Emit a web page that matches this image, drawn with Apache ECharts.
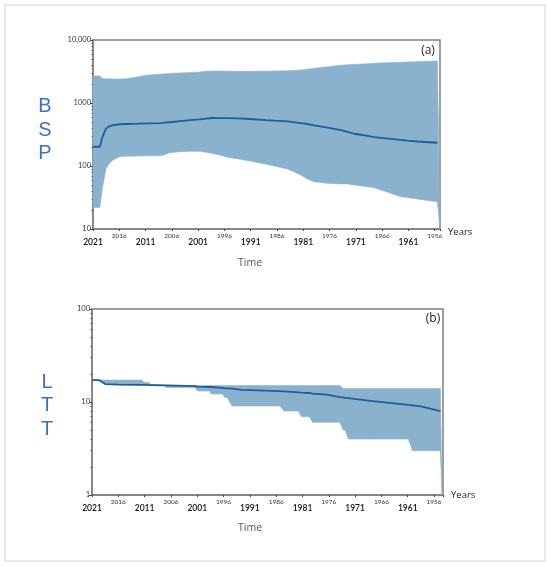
<!DOCTYPE html>
<html>
<head>
<meta charset="utf-8">
<script src="https://cdn.jsdelivr.net/npm/echarts@6/dist/echarts.min.js"></script>
<style>
html,body{margin:0;padding:0;background:#fff;}
#c{width:550px;height:566px;}
</style>
</head>
<body>
<div id="c"></div>
<script>
// ---------- Data: panel (a) BSP ----------
const bspYear   = [2021, 2019.7, 2019.2, 2018.5, 2017.8, 2017.2, 2015.9, 2014.6, 2012.5, 2010.5, 2008.3, 2007.7, 2006.4, 2004.5, 2002.5, 2000.7, 1999.5, 1998.2, 1997, 1995.1, 1993.5, 1991.2, 1988.1, 1986.5, 1984, 1981.5, 1980.2, 1978.9, 1976.4, 1973.8, 1972.6, 1971.3, 1968.8, 1967.5, 1966.2, 1962.5, 1961.2, 1959.3, 1955.5, 1955];
const bspUpper  = [2700, 2680, 2450, 2420, 2420, 2410, 2400, 2420, 2600, 2780, 2860, 2880, 2950, 3000, 3060, 3100, 3180, 3220, 3220, 3200, 3180, 3180, 3200, 3220, 3250, 3350, 3430, 3550, 3750, 3980, 4050, 4100, 4200, 4270, 4320, 4430, 4470, 4530, 4640, 10];
const bspMedian = [202, 202, 290, 395, 430, 447, 460, 464, 470, 476, 480, 482, 495, 515, 535, 551, 565, 578, 577, 575, 570, 557, 535, 525, 510, 480, 464, 440, 405, 372, 347, 325, 300, 288, 279, 259, 252, 245, 234, null];
const bspLower  = [22, 22, 45, 92, 112, 124, 141, 143, 144, 145, 145, 148, 163, 169, 171, 171, 166, 158, 150, 135, 130, 120, 107, 100, 90, 72, 62, 56, 53, 52, 52, 50, 47, 45, 41.6, 32.6, 31.5, 30, 27, 10];

// ---------- Data: panel (b) LTT ----------
const lttYear   = [2021, 2019.7, 2018.5, 2016, 2011.6, 2011.1, 2010.2, 2009.8, 2007.4, 2006.9, 2001.5, 2000.9, 1998.6, 1998.4, 1996.2, 1995.8, 1995.3, 1994.4, 1992.6, 1985.3, 1984.5, 1981.8, 1981.2, 1979.7, 1979.1, 1976.4, 1973.9, 1973.3, 1972.9, 1972.3, 1968.1, 1964.5, 1960.9, 1960.1, 1958.3, 1954.8, 1954.5];
const lttUpper  = [17.2, 17.2, 17.2, 17.2, 17.2, 16.3, 16.3, 15.4, 15.2, 15.1, 15.0, 15.0, 15.0, 15.0, 15.0, 15.0, 15.0, 15.0, 15.0, 15.0, 15.0, 15.0, 15.0, 15.0, 15.0, 15.0, 15.0, 14.0, 14.0, 14.0, 14.0, 14.0, 14.0, 14.0, 14.0, 14.0, 1];
const lttMedian = [17.2, 17.2, 15.6, 15.4, 15.3, 15.3, 15.2, 15.2, 15.1, 15.1, 14.8, 14.6, 14.5, 14.4, 14.2, 14.0, 14.0, 13.9, 13.5, 13.1, 13.0, 12.7, 12.6, 12.5, 12.3, 12.0, 11.3, 11.2, 11.1, 11.0, 10.3, 9.8, 9.3, 9.2, 8.9, 8.0, null];
const lttLower  = [17.2, 17.2, 15.6, 15.4, 15.3, 15.3, 15.2, 15.2, 15.1, 14.3, 14.3, 13.1, 13.1, 12.2, 12.2, 11.2, 11.2, 9.06, 9.06, 9.06, 8.0, 8.0, 6.95, 6.95, 6.05, 6.05, 6.05, 5.0, 5.0, 4.0, 4.0, 4.0, 4.0, 3.0, 3.0, 3.0, 1];

// tick labels / texts
const refYear = 2021;
const panelLetters = ['(a)', '(b)'];
const yTitles = [['B', 'S', 'P'], ['L', 'T', 'T']];

const FILL = '#8ab2cf';
const LINE = '#1f5d99';
const AX = '#7f7f7f';

function pts(years, vals) {
  return years.map((y, i) => [refYear - y, vals[i]]);
}

function xAxesFor(gridIndex, max) {
  const base = {
    type: 'value', gridIndex: gridIndex, position: 'bottom', min: 0, max: max, interval: 5,
    splitLine: { show: false }
  };
  return [
    Object.assign({}, base, {
      axisLine: { show: true, lineStyle: { color: AX, width: 1.5 } },
      axisTick: { show: true, length: 2, lineStyle: { color: '#444', width: 1 } },
      axisLabel: {
        margin: 3, fontSize: 6.5, color: '#333', fontFamily: 'Lato',
        showMinLabel: true, showMaxLabel: true,
        formatter: v => (Math.abs(v % 10 - 5) < 1e-6) ? String(refYear - v) : ''
      }
    }),
    Object.assign({}, base, {
      axisLine: { show: false }, axisTick: { show: false },
      axisLabel: {
        margin: 9, fontSize: 8.5, color: '#111', fontFamily: 'Lato', fontWeight: 600,
        showMinLabel: true, showMaxLabel: true,
        formatter: v => (Math.abs(v % 10) < 1e-6 && v <= 65) ? String(refYear - v) : ''
      }
    })
  ];
}

function yAxisFor(gridIndex, min, max) {
  return {
    type: 'log', logBase: 10, gridIndex: gridIndex, min: min, max: max,
    axisLine: { show: true, lineStyle: { color: AX, width: 1.5 } },
    axisTick: { show: true, length: 3, lineStyle: { color: '#444' } },
    minorTick: { show: true, splitNumber: 9, length: 1.5, lineStyle: { color: '#555' } },
    splitLine: { show: false },
    axisLabel: {
      margin: 2, fontSize: 7.5, color: '#333', fontFamily: 'Lato',
      formatter: v => v === 10000 ? '10,000' : String(v)
    }
  };
}

function bandSeries(xi, yi, years, up, med, lo) {
  const upPts = pts(years, up);
  const loPts = pts(years, lo);
  return [
    {
      type: 'custom', xAxisIndex: xi, yAxisIndex: yi, silent: true, z: 2,
      data: [[0, lo[0]]],
      renderItem: function (params, api) {
        const poly = [];
        upPts.forEach(p => poly.push(api.coord(p)));
        for (let i = loPts.length - 1; i >= 0; i--) poly.push(api.coord(loPts[i]));
        return {
          type: 'polygon',
          shape: { points: poly },
          style: { fill: FILL, stroke: FILL, lineWidth: 0.6 }
        };
      }
    },
    {
      type: 'line', xAxisIndex: xi, yAxisIndex: yi,
      data: pts(years, med), symbol: 'none', silent: true, connectNulls: false,
      lineStyle: { color: LINE, width: 1.8 }, z: 3
    }
  ];
}

function letterTexts(letters, x, ys) {
  return letters.map((t, i) => ({
    type: 'text', x: x, y: ys[i],
    style: { text: t, fill: '#3f6fc6', font: '20px "Liberation Sans", Arial, sans-serif', align: 'center', verticalAlign: 'middle' }
  }));
}

const chart = echarts.init(document.getElementById('c'), null, { renderer: 'canvas' });
const option = {
  backgroundColor: '#ffffff',
  animation: false,
  grid: [
    { left: 93, top: 40, width: 347, height: 189, show: true, borderColor: AX, borderWidth: 1.5, backgroundColor: 'transparent' },
    { left: 92, top: 309, width: 351, height: 186, show: true, borderColor: AX, borderWidth: 1.5, backgroundColor: 'transparent' }
  ],
  xAxis: xAxesFor(0, 66).concat(xAxesFor(1, 66.7)),
  yAxis: [yAxisFor(0, 10, 10000), yAxisFor(1, 1, 100)],
  series: bandSeries(0, 0, bspYear, bspUpper, bspMedian, bspLower)
    .concat(bandSeries(2, 1, lttYear, lttUpper, lttMedian, lttLower)),
  graphic: [
    { type: 'rect', shape: { x: 5, y: 5, width: 540, height: 556 }, style: { fill: 'none', stroke: '#e4e4e4', lineWidth: 1.5 }, silent: true },
    ...letterTexts(yTitles[0], 45, [106, 130, 153]),
    ...letterTexts(yTitles[1], 47, [382, 405, 429]),
    { type: 'text', x: 250, y: 263, style: { text: 'Time', fill: '#555', font: '10.5px "Open Sans", sans-serif', align: 'center', verticalAlign: 'middle' } },
    { type: 'text', x: 250, y: 528, style: { text: 'Time', fill: '#555', font: '10.5px "Open Sans", sans-serif', align: 'center', verticalAlign: 'middle' } },
    { type: 'text', x: 448, y: 232, style: { text: 'Years', fill: '#222', font: '9.5px "Open Sans", sans-serif', align: 'left', verticalAlign: 'middle' } },
    { type: 'text', x: 451, y: 495, style: { text: 'Years', fill: '#222', font: '9.5px "Open Sans", sans-serif', align: 'left', verticalAlign: 'middle' } },
    { type: 'text', x: 428, y: 51, style: { text: panelLetters[0], fill: '#222', font: '12px "Open Sans", sans-serif', align: 'center', verticalAlign: 'middle' } },
    { type: 'text', x: 433, y: 319, style: { text: panelLetters[1], fill: '#222', font: '12px "Open Sans", sans-serif', align: 'center', verticalAlign: 'middle' } }
  ]
};
chart.setOption(option);
</script>
</body>
</html>
